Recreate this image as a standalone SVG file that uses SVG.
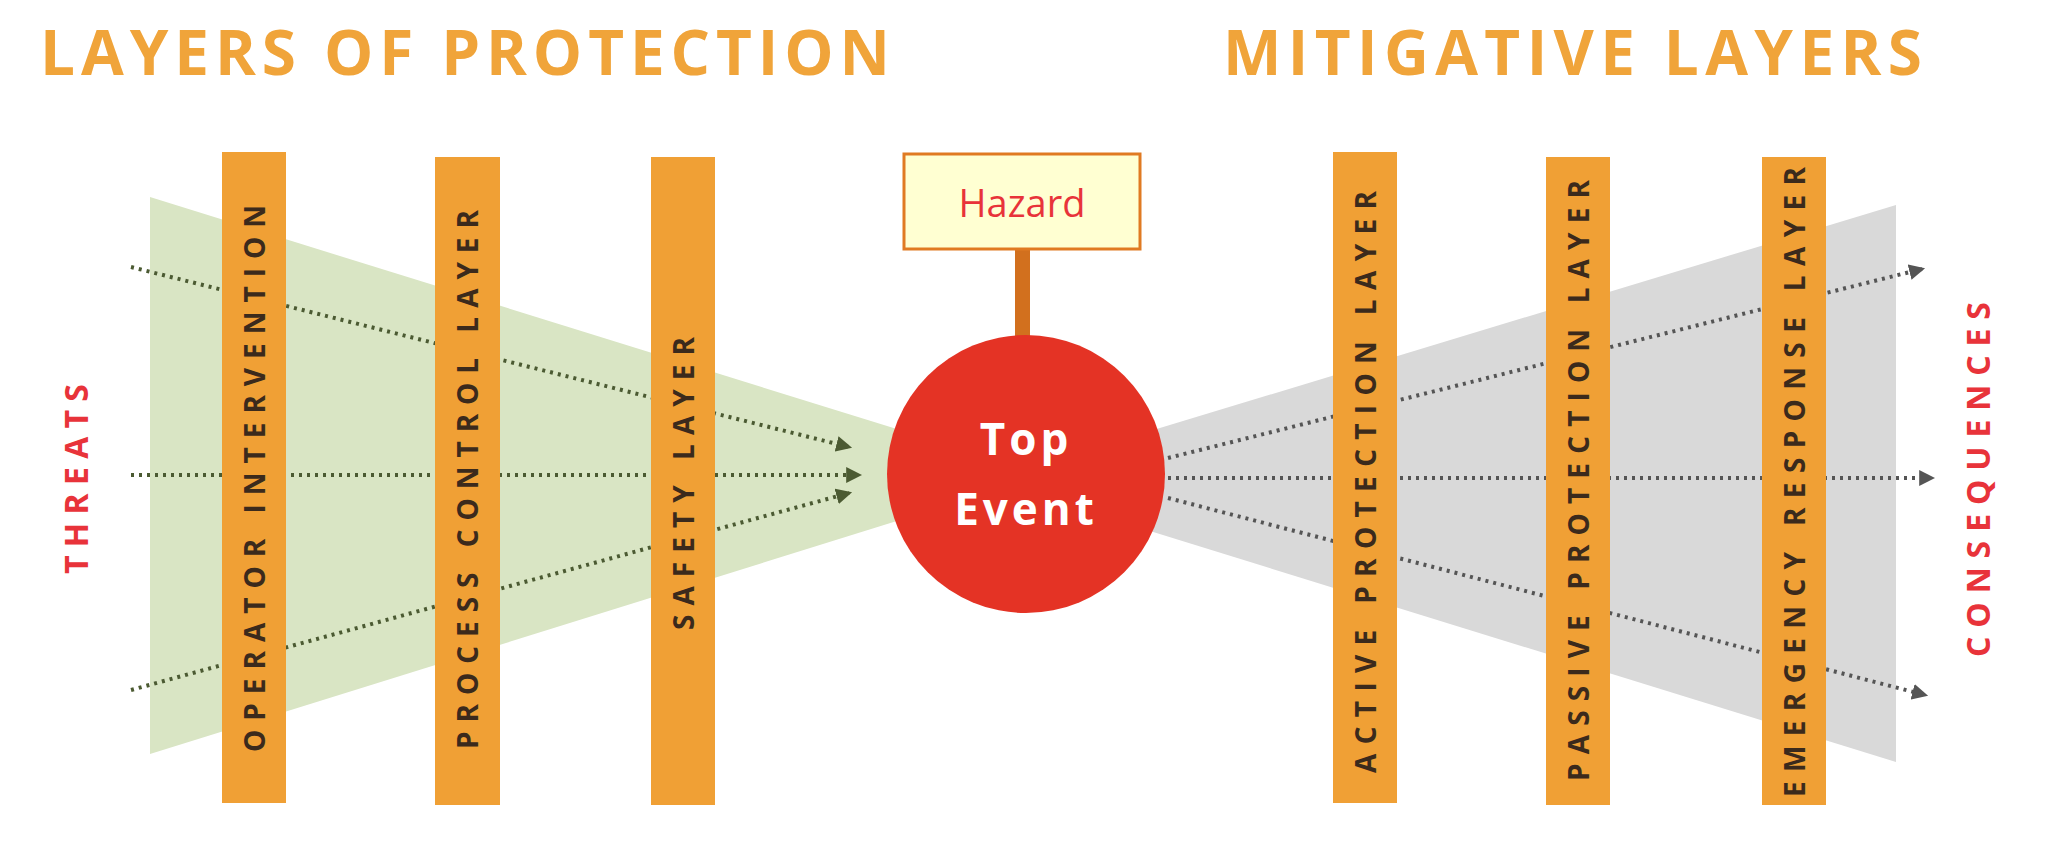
<svg xmlns="http://www.w3.org/2000/svg" width="2048" height="845" viewBox="0 0 2048 845">
<defs>
<marker id="ag" viewBox="0 0 10 10" refX="8" refY="5" markerWidth="4" markerHeight="4" orient="auto" markerUnits="strokeWidth"><path d="M0,0 L10,5 L0,10 z" fill="#4b5a32"/></marker>
<marker id="ay" viewBox="0 0 10 10" refX="8" refY="5" markerWidth="4" markerHeight="4" orient="auto" markerUnits="strokeWidth"><path d="M0,0 L10,5 L0,10 z" fill="#555"/></marker>
</defs>
<style>
.title{font-family:"Open Sans","Liberation Sans",sans-serif;font-weight:bold;font-size:62px;fill:#f0a43a}
.bar{fill:#f0a035}
.bt{font-family:"Open Sans","Liberation Sans",sans-serif;font-weight:bold;font-size:28px;fill:#3b2a1c}
.side{font-family:"Open Sans","Liberation Sans",sans-serif;font-weight:bold;font-size:32px;fill:#e8333a}
.g{stroke:#4b5a32;stroke-width:4;stroke-dasharray:3 5;fill:none;marker-end:url(#ag)}
.y{stroke:#555;stroke-width:4;stroke-dasharray:3 5;fill:none;marker-end:url(#ay)}
</style>
<rect width="2048" height="845" fill="#fff"/>
<text class="title" x="40" y="75" textLength="850" lengthAdjust="spacing">LAYERS OF PROTECTION</text>
<text class="title" x="1223" y="75" textLength="699" lengthAdjust="spacing">MITIGATIVE LAYERS</text>
<polygon points="150,197 900,430 900,520 150,754" fill="#d9e5c4"/>
<polygon points="1150,431 1896,205 1896,762 1150,531" fill="#d9d9d9"/>
<g id="connectors">
<line class="g" x1="131" y1="267" x2="849" y2="447"/>
<line class="g" x1="131" y1="475" x2="859" y2="475"/>
<line class="g" x1="131" y1="690" x2="849" y2="493"/>
<line class="y" x1="1168" y1="458" x2="1922" y2="269"/>
<line class="y" x1="1168" y1="478" x2="1932" y2="478"/>
<line class="y" x1="1168" y1="498" x2="1925" y2="695"/>
</g>
<g id="threats"><text class="side" transform="translate(88,574) rotate(-90)" textLength="190" lengthAdjust="spacing">THREATS</text></g>
<g id="consequences"><text class="side" transform="translate(1990,657) rotate(-90)" textLength="355" lengthAdjust="spacing">CONSEQUENCES</text></g>
<g id="operator"><rect class="bar" x="222" y="152" width="64" height="651"/><text class="bt" transform="translate(265,752) rotate(-90)" textLength="547" lengthAdjust="spacing">OPERATOR  INTERVENTION</text></g>
<g id="process"><rect class="bar" x="435" y="157" width="65" height="648"/><text class="bt" transform="translate(478,749) rotate(-90)" textLength="539" lengthAdjust="spacing">PROCESS  CONTROL  LAYER</text></g>
<g id="safety"><rect class="bar" x="651" y="157" width="64" height="648"/><text class="bt" transform="translate(694,630) rotate(-90)" textLength="293" lengthAdjust="spacing">SAFETY  LAYER</text></g>
<g id="active"><rect class="bar" x="1333" y="152" width="64" height="651"/><text class="bt" transform="translate(1376,773) rotate(-90)" textLength="582" lengthAdjust="spacing">ACTIVE  PROTECTION  LAYER</text></g>
<g id="passive"><rect class="bar" x="1546" y="157" width="64" height="648"/><text class="bt" transform="translate(1589,781) rotate(-90)" textLength="601" lengthAdjust="spacing">PASSIVE  PROTECTION  LAYER</text></g>
<g id="emergency"><rect class="bar" x="1762" y="157" width="64" height="648"/><text class="bt" transform="translate(1805,797) rotate(-90)" textLength="630" lengthAdjust="spacing">EMERGENCY  RESPONSE  LAYER</text></g>
<g id="hazard">
<rect x="1015" y="248" width="15" height="88" fill="#d2701e"/>
<rect x="904" y="154" width="236" height="95" fill="#ffffd2" stroke="#e07a22" stroke-width="3"/>
<text x="1022" y="217" text-anchor="middle" font-family="Open Sans, Liberation Sans, sans-serif" font-size="38" fill="#e8333a">Hazard</text>
</g>
<g id="top-event">
<circle cx="1026" cy="474" r="139" fill="#e43325"/>
<text x="1026" y="455" text-anchor="middle" font-family="Open Sans, Liberation Sans, sans-serif" font-weight="bold" font-size="44" letter-spacing="4" fill="#fff">Top</text>
<text x="1026" y="525" text-anchor="middle" font-family="Open Sans, Liberation Sans, sans-serif" font-weight="bold" font-size="44" letter-spacing="4" fill="#fff">Event</text>
</g>
</svg>
